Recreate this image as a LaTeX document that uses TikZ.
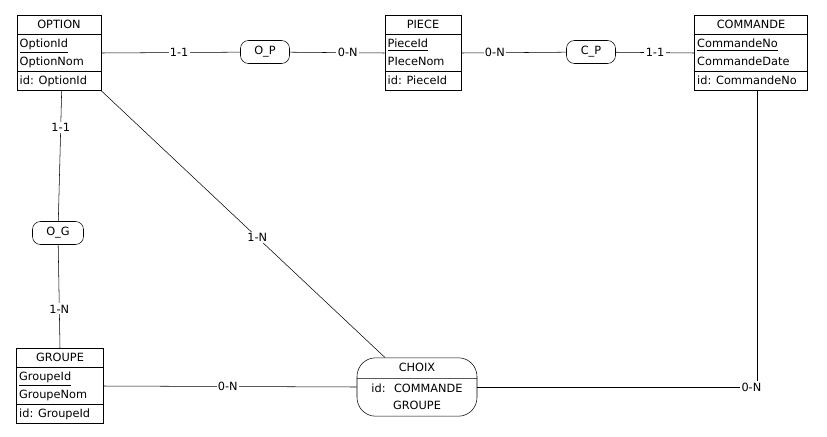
\documentclass[tikz,border=0pt]{standalone}
\usepackage{fontspec}
\setmainfont{DejaVu Sans}
\usetikzlibrary{shapes.multipart}

\newcommand{\rows}[1]{\begin{tabular}{@{}l@{}}#1\end{tabular}}

\tikzset{
  entity/.style={draw, rectangle split, rectangle split parts=3,
    rectangle split part align={center,left,left}, inner xsep=2pt, inner ysep=0.5pt,
    font=\fontsize{8.5}{13}\selectfont},
  rel/.style={draw, rounded corners=6pt, minimum width=49*0.75pt, minimum height=23*0.75pt,
    inner sep=1pt, font=\fontsize{8.5}{10}\selectfont},
  card/.style={fill=white, inner sep=1pt, font=\fontsize{8.5}{10}\selectfont}
}

\begin{document}
\begin{tikzpicture}[x=0.75pt, y=-0.75pt]
  \useasboundingbox (0,0) rectangle (827,436);

  % entities
  \node [entity, minimum width=84*0.75pt] (option) at (59,53)
    {\rows{OPTION} \nodepart{two} \rows{\underline{OptionId}\\OptionNom}
     \nodepart{three} \rows{id: OptionId}};
  \node [entity, minimum width=76*0.75pt] (piece) at (423,53)
    {\rows{PIECE} \nodepart{two} \rows{\underline{PieceId}\\PIeceNom}
     \nodepart{three} \rows{id: PieceId}};
  \node [entity, minimum width=113*0.75pt] (commande) at (751,53)
    {\rows{COMMANDE} \nodepart{two} \rows{\underline{CommandeNo}\\CommandeDate}
     \nodepart{three} \rows{id: CommandeNo}};
  \node [entity, minimum width=87*0.75pt] (groupe) at (60,386)
    {\rows{GROUPE} \nodepart{two} \rows{\underline{GroupeId}\\GroupeNom}
     \nodepart{three} \rows{id: GroupeId}};

  % relations
  \node [rel] (op) at (265,52) {O\_P};
  \node [rel] (cp) at (591,52) {C\_P};
  \node [rel, minimum width=51*0.75pt] (og) at (58,233) {O\_G};
  \node [draw, rounded corners=14pt, rectangle split, rectangle split parts=2,
    minimum width=120*0.75pt, inner ysep=1pt, font=\fontsize{8.5}{13}\selectfont]
    (choix) at (417,387)
    {\rows{CHOIX} \nodepart{two} \begin{tabular}{@{}c@{}}id:~ COMMANDE\\GROUPE\end{tabular}};

  % links
  \draw (option.east) -- node [card, pos=0.56] {1-1} (op);
  \draw (op) -- node [card, pos=0.61] {0-N} (piece.west);
  \draw (piece.east) -- node [card, pos=0.32] {0-N} (cp);
  \draw (cp) -- node [card, pos=0.5] {1-1} (commande.west);
  \draw ([xshift=2pt]option.south) -- node [card, pos=0.28] {1-1} (og);
  \draw (og) -- node [card, pos=0.62] {1-N} (groupe.north);
  \draw (option.south east) -- node [card, pos=0.55] {1-N} ([xshift=-24pt]choix.north);
  \draw (groupe.east) -- node [card, pos=0.49] {0-N} (choix.west);
  \draw (choix.east) -| node [card, pos=0.49] {0-N} ([xshift=4.5pt]commande.south);
\end{tikzpicture}
\end{document}
